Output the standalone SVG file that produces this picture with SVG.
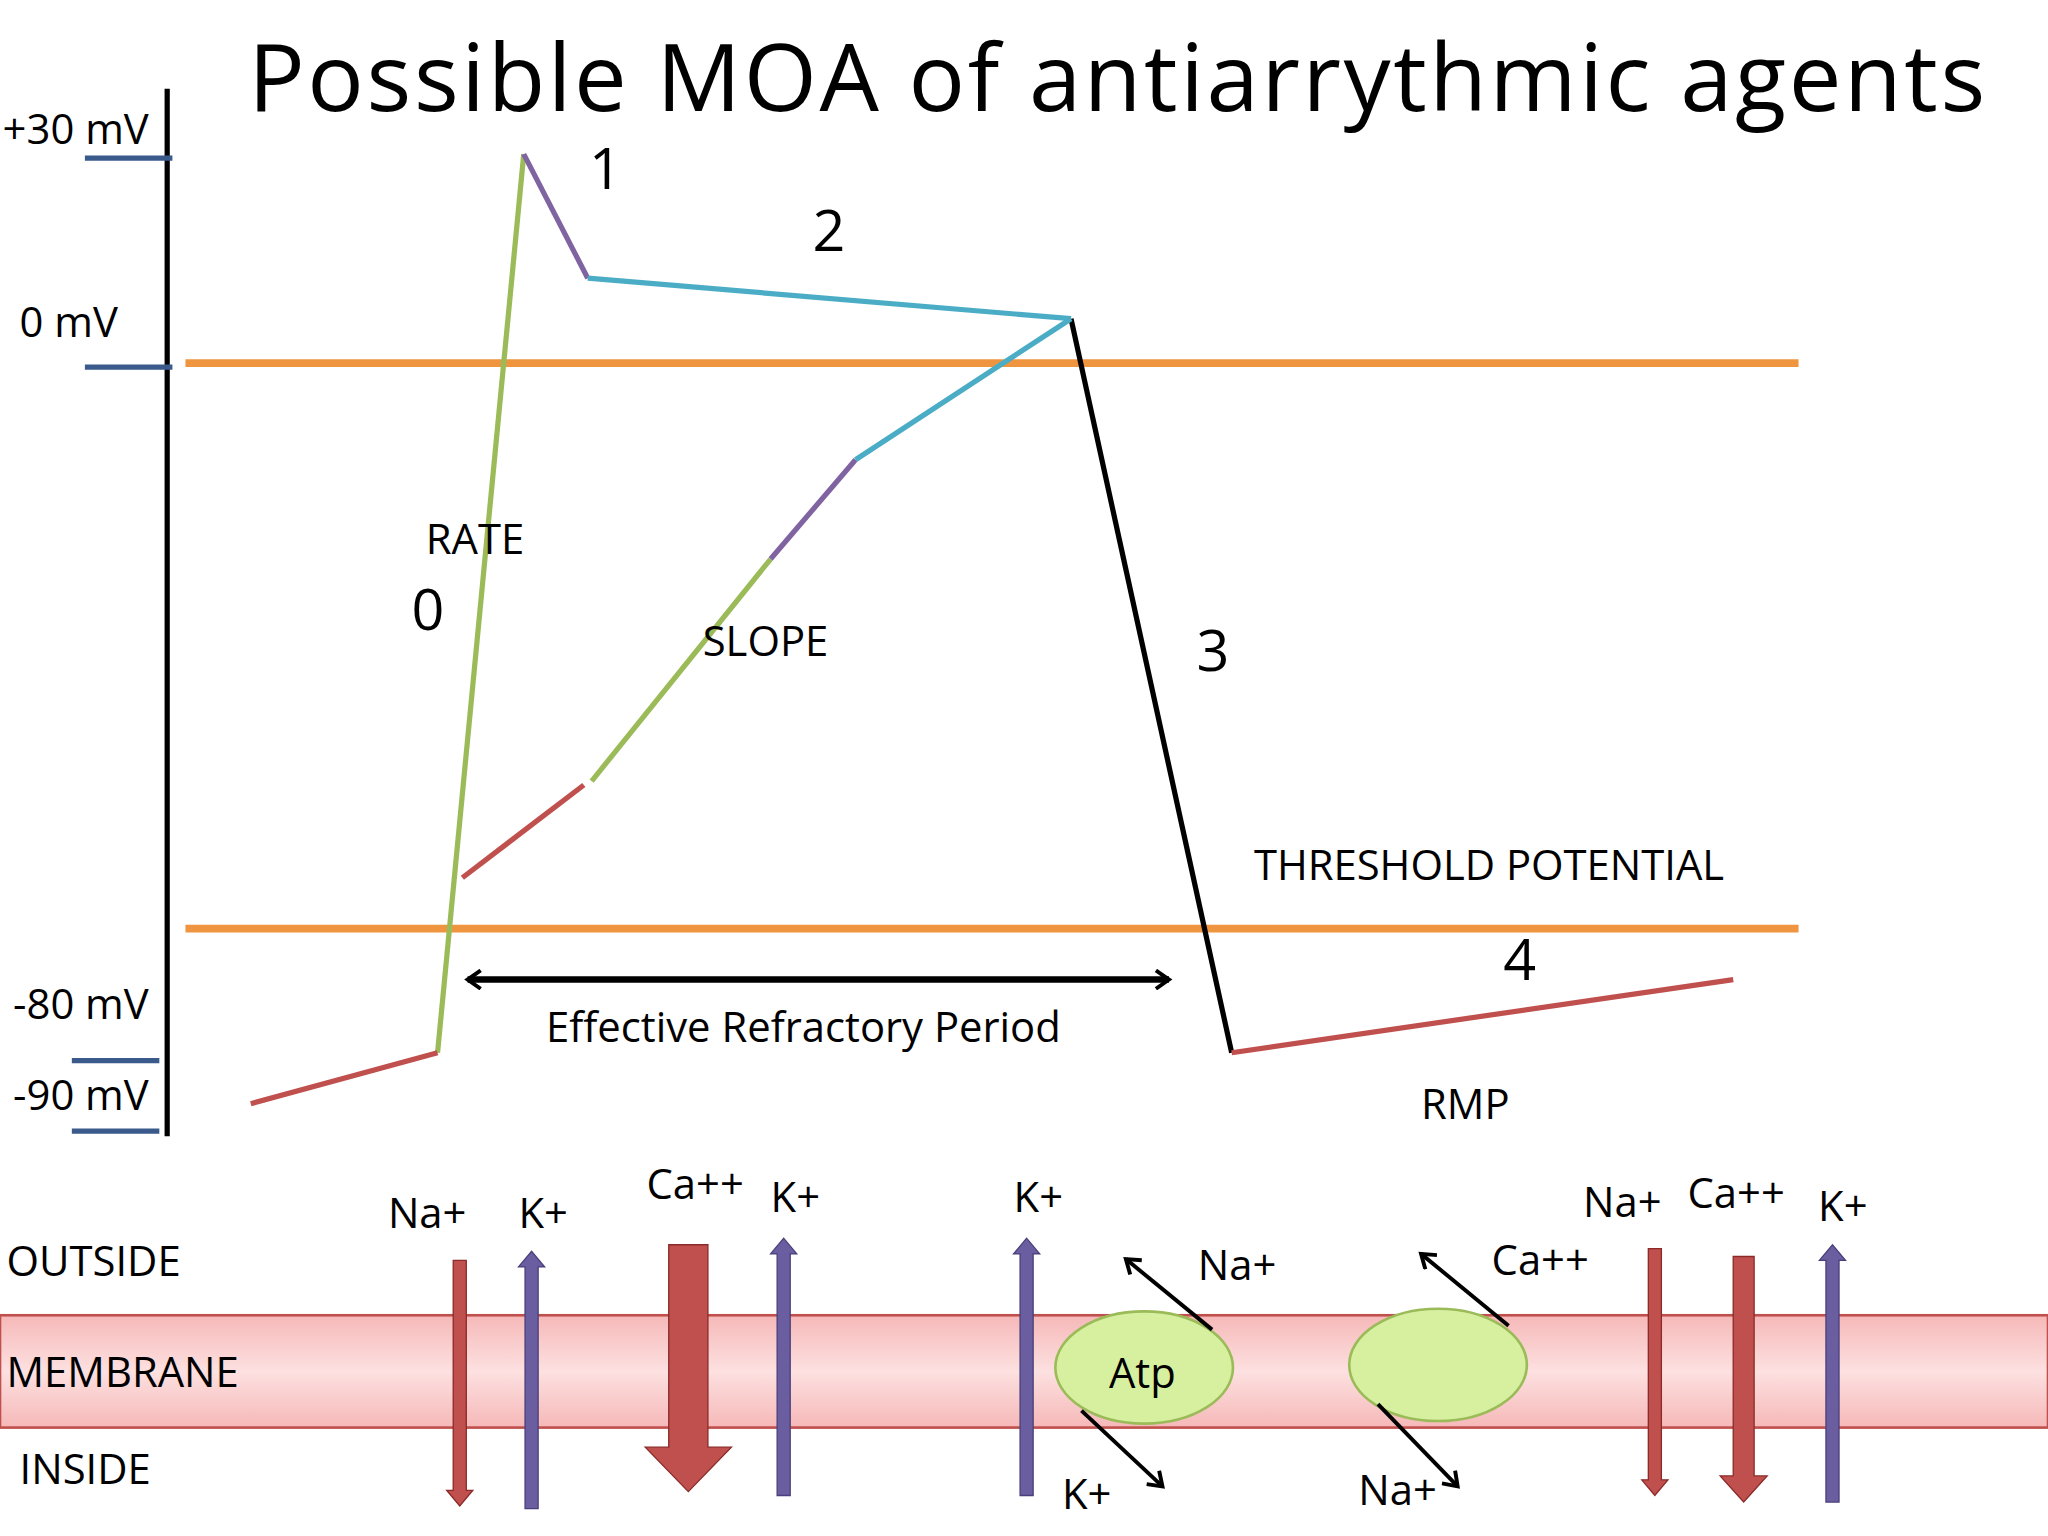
<svg xmlns="http://www.w3.org/2000/svg" width="2048" height="1536" viewBox="0 0 2048 1536">
<defs>
<style>
text{font-family:"Open Sans","Liberation Sans",sans-serif;fill:#000}
.l{font-size:32px}.n{font-size:44px}
.ln{fill:none;stroke-width:4}
.red{fill:#c0504d;stroke:#8b2a28;stroke-width:1}
.pur{fill:#6b5ea0;stroke:#4a3f7a;stroke-width:1}
</style>
<marker id="oa" markerWidth="10" markerHeight="10" refX="8" refY="5" orient="auto-start-reverse" markerUnits="userSpaceOnUse"><path d="M0,0 L8,5 L0,10" fill="none" stroke="#000" stroke-width="2"/></marker>
<marker id="ba" markerWidth="16" markerHeight="16" refX="12" refY="8" orient="auto-start-reverse" markerUnits="userSpaceOnUse"><path d="M2,1 L12,8 L2,15" fill="none" stroke="#000" stroke-width="3"/></marker>
<linearGradient id="mem" x1="0" y1="0" x2="0" y2="1"><stop offset="0" stop-color="#f6b8b8"/><stop offset="0.5" stop-color="#fde0e0"/><stop offset="1" stop-color="#f6b8b8"/></linearGradient>
</defs>
<rect width="2048" height="1536" fill="#fff"/>
<g transform="scale(1.30612)">
<text x="190" y="85" font-size="72" textLength="1330">Possible MOA of antiarrythmic agents</text>
<g id="axis">
<line x1="128" y1="68" x2="128" y2="870" stroke="#000" stroke-width="4"/>
<g stroke="#3a5a8c" stroke-width="4"><line x1="65" y1="121" x2="132" y2="121"/><line x1="65" y1="281" x2="132" y2="281"/><line x1="55" y1="812" x2="122" y2="812"/><line x1="55" y1="866" x2="122" y2="866"/></g>
<text class="l" x="2" y="110">+30 mV</text><text class="l" x="15" y="258">0 mV</text><text class="l" x="10" y="780">-80 mV</text><text class="l" x="10" y="850">-90 mV</text>
</g>
<g id="connectors">
<line x1="142" y1="278" x2="1377" y2="278" stroke="#f0953f" stroke-width="6"/>
<line x1="142" y1="711" x2="1377" y2="711" stroke="#f0953f" stroke-width="6"/>
<line class="ln" x1="335" y1="806" x2="401" y2="118" stroke="#9bbb59"/>
<line class="ln" x1="401" y1="118" x2="450" y2="213" stroke="#8064a2"/>
<line class="ln" x1="450" y1="213" x2="820" y2="244" stroke="#4bacc6"/>
<line class="ln" x1="820" y1="244" x2="943" y2="806" stroke="#000"/>
<line class="ln" x1="943" y1="806" x2="1327" y2="750" stroke="#c0504d"/>
<line class="ln" x1="192" y1="845" x2="335" y2="806" stroke="#c0504d"/>
<line class="ln" x1="354" y1="672" x2="447" y2="601" stroke="#c0504d"/>
<line class="ln" x1="453" y1="598" x2="590" y2="428" stroke="#9bbb59"/>
<line class="ln" x1="590" y1="428" x2="655" y2="352" stroke="#8064a2"/>
<line class="ln" x1="655" y1="352" x2="820" y2="244" stroke="#4bacc6"/>
<line x1="358" y1="750" x2="895" y2="750" stroke="#000" stroke-width="5" marker-start="url(#ba)" marker-end="url(#ba)"/>
</g>
<g id="labels">
<text class="n" x="451" y="145">1</text><text class="n" x="622" y="192">2</text><text class="n" x="315" y="482">0</text><text class="n" x="916" y="514">3</text><text class="n" x="1151" y="750">4</text>
<text class="l" x="326" y="424">RATE</text><text class="l" x="538" y="502">SLOPE</text>
<text class="l" x="960" y="674">THRESHOLD POTENTIAL</text>
<text class="l" x="418" y="798">Effective Refractory Period</text>
<text class="l" x="1088" y="857">RMP</text>
</g>
<g id="membrane">
<rect x="0" y="1007" width="1568" height="86" fill="url(#mem)" stroke="#c0504d" stroke-width="2"/>
<text class="l" x="5" y="977">OUTSIDE</text><text class="l" x="5" y="1062">MEMBRANE</text><text class="l" x="15" y="1136">INSIDE</text>
</g>
<g id="channels">
<path class="red" d="M347,965 h10 v176 h5 l-10,12 l-10,-12 h5z"/>
<path class="pur" d="M402,1155 v-185 h-5 l10,-12 l10,12 h-5 v185z"/>
<path class="red" d="M512,953 h30 v155 h18 l-33,34 l-33,-34 h18z"/>
<path class="pur" d="M595,1145 v-185 h-5 l10,-12 l10,12 h-5 v185z"/>
<path class="pur" d="M781,1145 v-185 h-5 l10,-12 l10,12 h-5 v185z"/>
<path class="red" d="M1262,956 h10 v177 h5 l-10,12 l-10,-12 h5z"/>
<path class="red" d="M1327,962 h16 v168 h10 l-18,20 l-18,-20 h10z"/>
<path class="pur" d="M1398,1150 v-185 h-5 l10,-12 l10,12 h-5 v185z"/>
</g>
<g id="pump-atp">
<ellipse cx="876" cy="1047" rx="68" ry="43" fill="#d7f0a0" stroke="#9bbb59" stroke-width="2"/>
<text class="l" x="849" y="1063">Atp</text>
</g>
<g id="pump-ca">
<ellipse cx="1101" cy="1045" rx="68" ry="43" fill="#d7f0a0" stroke="#9bbb59" stroke-width="2"/>
</g>
<g id="pump-arrows" stroke="#000" stroke-width="3">
<line x1="928" y1="1018" x2="862" y2="964" marker-end="url(#ba)"/>
<line x1="828" y1="1080" x2="890" y2="1138" marker-end="url(#ba)"/>
<line x1="1155" y1="1015" x2="1088" y2="960" marker-end="url(#ba)"/>
<line x1="1055" y1="1075" x2="1116" y2="1138" marker-end="url(#ba)"/>
</g>
<g id="ion-labels">
<text class="l" x="297" y="940">Na+</text><text class="l" x="397" y="940">K+</text><text class="l" x="495" y="918">Ca++</text><text class="l" x="590" y="928">K+</text><text class="l" x="776" y="928">K+</text>
<text class="l" x="917" y="980">Na+</text><text class="l" x="1142" y="976">Ca++</text><text class="l" x="1212" y="932">Na+</text><text class="l" x="1292" y="925">Ca++</text><text class="l" x="1392" y="935">K+</text>
<text class="l" x="813" y="1155">K+</text><text class="l" x="1040" y="1152">Na+</text>
</g>
</g>
</svg>
